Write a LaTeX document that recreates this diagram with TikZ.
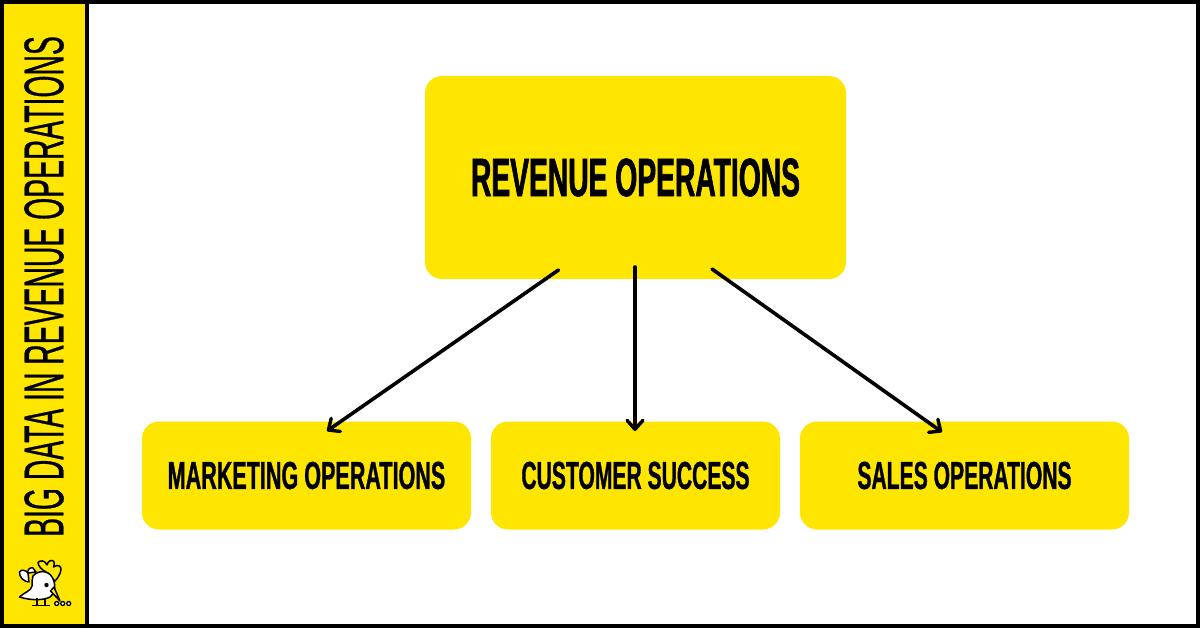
\documentclass[tikz,border=0pt]{standalone}
\usepackage{fontspec}
\setmainfont{Liberation Sans}
\newfontfamily\narrowA[FakeStretch=0.523,FakeBold=1.2]{Liberation Sans Bold}
\newfontfamily\narrowC[FakeStretch=0.553,FakeBold=0.8]{Liberation Sans Bold}
\newfontfamily\narrowD[FakeStretch=0.541,FakeBold=0.8]{Liberation Sans Bold}
\newfontfamily\narrowB[FakeStretch=0.506,FakeBold=0.5]{Liberation Sans}
\definecolor{ybox}{HTML}{FFE600}
\usetikzlibrary{arrows.meta}
\tikzset{
 x=1pt,y=-1pt,
 mainbox/.style={fill=ybox,rounded corners=17pt,minimum width=421pt,minimum height=203pt,inner sep=0pt,font=\narrowA\fontsize{54}{54}\selectfont},
 subbox/.style={fill=ybox,rounded corners=17pt,minimum height=108pt,inner sep=0pt,font=\narrowC\fontsize{39}{39}\selectfont},
 subboxb/.style={subbox,font=\narrowD\fontsize{39}{39}\selectfont},
 flow/.style={draw=black,line width=3.6pt,line cap=round,-{Straight Barb[length=9pt,width=16pt,line width=3.4pt,round]}},
 ink/.style={draw=black,line width=1.5pt,fill=white,line join=round},
}
\begin{document}
\begin{tikzpicture}
\useasboundingbox (0,0) rectangle (1200,628);
\fill[white] (0,0) rectangle (1200,628);
\fill[ybox] (0,0) rectangle (87,628);
\fill[black] (85,0) rectangle (89,628);
\draw[black,line width=4pt] (2,2) rectangle (1198,626);
\node[mainbox] (rev) at (635.5,177.5) {REVENUE OPERATIONS};
\node[subbox,minimum width=329pt] (mkt) at (306.5,475.5) {MARKETING OPERATIONS};
\node[subboxb,minimum width=289pt] (cus) at (635.5,475.5) {CUSTOMER SUCCESS};
\node[subboxb,minimum width=329pt] (sal) at (964.5,475.5) {SALES OPERATIONS};
\coordinate (s1) at (558.5,270);
\coordinate (s2) at (635,267);
\coordinate (s3) at (712,269);
\coordinate (e1) at (327,431);
\coordinate (e2) at (635,431);
\coordinate (e3) at (942,432);
\draw[flow] (s1) -- (e1);
\draw[flow] (s2) -- (e2);
\draw[flow] (s3) -- (e3);
\node[rotate=90,inner sep=0pt,font=\narrowB\fontsize{56}{56}\selectfont] (title) at (44,286.5) {BIG DATA IN REVENUE OPERATIONS};
% mascot: comb
\draw[ink,fill=ybox] (46,572) .. controls (42,570) and (38,566) .. (38,562.5) .. controls (40,560) and (45,560) .. (47,565) .. controls (48,560) and (53,559) .. (54,562) .. controls (54.5,564) and (54,566) .. (53.5,567) .. controls (58,564) and (61.5,566) .. (61,570) .. controls (60,575) and (57,579) .. (55,581) -- cycle;
% wings
\draw[ink] (29,582) .. controls (24,582) and (19,577) .. (19.5,572) .. controls (21,569) and (26,570) .. (28,573) -- cycle;
\draw[ink] (28,573) .. controls (27,570) and (30,567) .. (33,568) .. controls (34,569) and (35,571) .. (36,572) -- cycle;
% body
\draw[ink] (33,576) .. controls (38,570) and (48,570) .. (52,577) .. controls (56,584) and (56,592) .. (50,597) .. controls (45,600) and (32,601) .. (19.5,597) .. controls (25,592) and (31,591) .. (32,586) .. controls (32,582) and (32,579) .. (33,576) -- cycle;
\fill[black] (46.5,585) circle (2.2pt);
% beak
\draw[ink,fill=ybox] (50.5,591) -- (54,587) -- (60,601) -- cycle;
% legs and feet
\draw[black,line width=1.3pt] (37,598) -- (37,605) (45,598) -- (45,605) (32,605.5) -- (42,605.5) (41.5,605.5) -- (50,605.5);
% crumbs
\draw[black,line width=1.3pt,fill=white] (56.7,603.5) circle (2pt) (62.7,603.5) circle (2pt) (68.7,603.5) circle (2pt);
\end{tikzpicture}
\end{document}
